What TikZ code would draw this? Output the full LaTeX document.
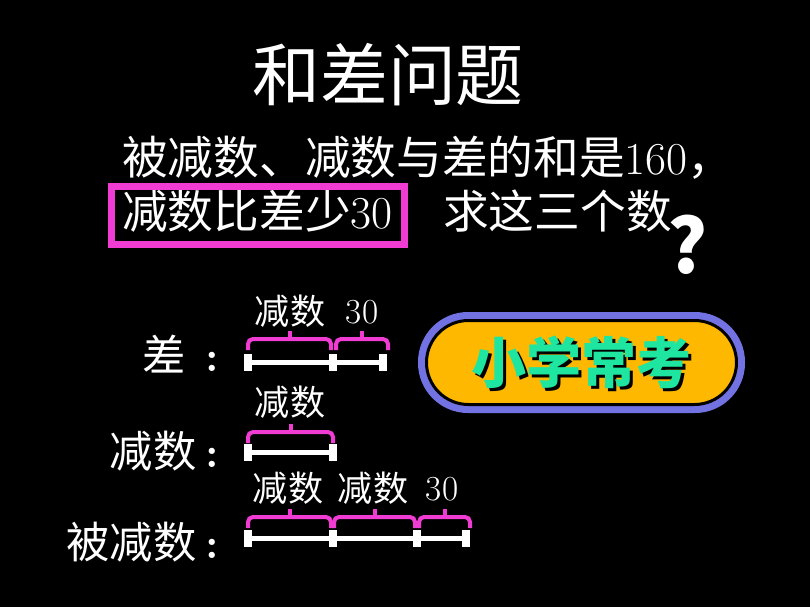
\documentclass[tikz,border=0pt]{standalone}
\usepackage{fontspec}
\newfontfamily\cjk{Noto Sans CJK SC}
\usetikzlibrary{positioning}
\definecolor{hotpink}{HTML}{F03CD2}
\definecolor{badgeblue}{HTML}{7272E2}
\definecolor{badgegold}{HTML}{FFB800}
\definecolor{mint}{HTML}{1EE6A0}
\newcommand{\px}{0.03cm}
\tikzset{headline/.style={text=white, font=\cjk\fontsize{58}{58}\selectfont, inner sep=0}}
\tikzset{bodytext/.style={text=white, font=\fontsize{39}{39}\selectfont, inner sep=0, anchor=west}}
\tikzset{rowlabel/.style={text=white, font=\fontsize{37}{37}\selectfont, inner sep=0, anchor=east}}
\tikzset{brklabel/.style={text=white, font=\fontsize{30}{30}\selectfont, inner sep=0}}
\tikzset{condbox/.style={draw=hotpink, line width=7*\px, minimum width=293*\px, minimum height=58*\px, inner sep=0}}
\tikzset{tickmark/.style={fill=white, minimum width=8*\px, minimum height=17*\px, inner sep=0}}
\tikzset{bar/.style={draw=white, line width=5*\px}}
\tikzset{brk/.style={draw=hotpink, line width=4*\px, rounded corners=5*\px}}
\tikzset{badgetext/.style={font=\cjk\bfseries\fontsize{47}{47}\selectfont, inner sep=0}}
\newcommand{\pinkbrace}[3]{%
\draw[brk] (#1,#3+11) |- ({(#1+#2)/2},#3) -| (#2,#3+11);
\draw[brk] ({(#1+#2)/2},#3) -- ({(#1+#2)/2},#3-8);}

\begin{document}
\begin{tikzpicture}[x=0.03cm, y=-0.03cm]

\fill[black] (0,0) rectangle (810,607);
\useasboundingbox (0,0) rectangle (810,607);

\node[headline] (title) at (388,75) {和差问题};

\node[bodytext] (line1) at (122,158) {{\cjk 被减数、减数与差的和是}160{\cjk ，}};
\node[bodytext] (cond) at (122,211) {{\cjk 减数比差少}30};
\node[condbox] (box) at (258,215.5) {};
\node[bodytext] (ask) at (443,211) {{\cjk 求这三个数}};
\node[text=white, font=\cjk\bfseries\fontsize{64}{64}\selectfont, inner sep=0] (qm) at (688,245) {?};

% row labels
\node[rowlabel] (labcha) at (219,354) {{\cjk 差}\hspace{0.45em}\textbf{:}};
\node[rowlabel] (labjian) at (219,451) {{\cjk 减数}\hspace{0.2em}\textbf{:}};
\node[rowlabel] (labbei) at (219,542) {{\cjk 被减数}\hspace{0.2em}\textbf{:}};

% bars
\node[tickmark] (t11) at (247.5,362) {};
\node[tickmark] (t12) at (333,362) {};
\node[tickmark] (t13) at (382.5,362) {};
\draw[bar] (t11.center) -- (t12.center) -- (t13.center);

\node[tickmark] (t21) at (247.5,452) {};
\node[tickmark] (t22) at (333,452) {};
\draw[bar] (t21.center) -- (t22.center);

\node[tickmark] (t31) at (247.5,538) {};
\node[tickmark] (t32) at (333,538) {};
\node[tickmark] (t33) at (416.5,538) {};
\node[tickmark] (t34) at (466,538) {};
\draw[bar] (t31.center) -- (t32.center) -- (t33.center) -- (t34.center);

% braces
\pinkbrace{248}{331}{339}
\pinkbrace{336}{388}{339}
\pinkbrace{248}{333}{432}
\pinkbrace{248}{331}{517}
\pinkbrace{334}{415}{517}
\pinkbrace{419}{470}{517}

\node[brklabel] (b11) at (290,311) {{\cjk 减数}};
\node[brklabel] (b12) at (362,312) {30};
\node[brklabel] (b21) at (290,402) {{\cjk 减数}};
\node[brklabel] (b31) at (288,488) {{\cjk 减数}};
\node[brklabel] (b32) at (373,488) {{\cjk 减数}};
\node[brklabel] (b33) at (442,489) {30};

% badge
\node[fill=badgeblue, rounded corners=50*\px, minimum width=327*\px, minimum height=101*\px, inner sep=0] (badge) at (581.5,362.5) {};
\node[fill=badgegold, draw=black, line width=3*\px, rounded corners=42*\px, minimum width=310*\px, minimum height=84*\px, inner sep=0] (badgein) at (badge.center) {};
\node[badgetext, text=black] (tagshadow) at (584.5,365.5) {小学常考};
\node[badgetext, text=mint] (tag) at (581.5,362.5) {小学常考};

\end{tikzpicture}
\end{document}
